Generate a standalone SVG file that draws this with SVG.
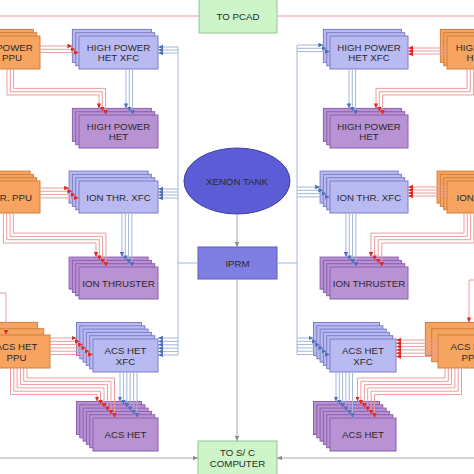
<svg xmlns="http://www.w3.org/2000/svg" width="474" height="474" viewBox="0 0 474 474">
<style>
.ppu{fill:#f6a460;stroke:#cf7f3f;stroke-width:1}
.xfc{fill:#babaf3;stroke:#7c7cc8;stroke-width:1}
.het{fill:#b992d4;stroke:#8b5fae;stroke-width:1}
.grn{fill:#cdf5c9;stroke:#93c293;stroke-width:1}
.tank{fill:#5c5cd6;stroke:#3e3e9c;stroke-width:1}
.iprm{fill:#7e7ee3;stroke:#5a5ab6;stroke-width:1}
text{font-family:"Liberation Sans",Arial,sans-serif;font-size:9.7px;fill:#2a2a2a;text-anchor:middle}
.r{fill:none;stroke:#ec9c9c;stroke-width:1;marker-end:url(#ar)}
.rn{fill:none;stroke:#ec9c9c;stroke-width:1}
.b{fill:none;stroke:#a3b6d8;stroke-width:1;marker-end:url(#ab)}
.bn{fill:none;stroke:#a3b6d8;stroke-width:1}
.g{fill:none;stroke:#a8a8a8;stroke-width:1;marker-end:url(#ag)}
</style>
<defs>
<marker id="ar" markerUnits="userSpaceOnUse" markerWidth="6" markerHeight="5" refX="5" refY="2.2" orient="auto"><path d="M0,0 L5,2.2 L0,4.4 z" fill="#e02828"/></marker>
<marker id="ab" markerUnits="userSpaceOnUse" markerWidth="6" markerHeight="5" refX="5" refY="2.2" orient="auto"><path d="M0,0 L5,2.2 L0,4.4 z" fill="#4d70b8"/></marker>
<marker id="ag" markerUnits="userSpaceOnUse" markerWidth="6" markerHeight="5" refX="5" refY="2.2" orient="auto"><path d="M0,0 L5,2.2 L0,4.4 z" fill="#8a8a8a"/></marker>
</defs>

<!-- Center nodes -->
<g id="to-pcad"><rect class="grn" x="199" y="-5" width="78" height="38"/><text x="238" y="19.5">TO PCAD</text></g>
<g id="xenon-tank"><ellipse class="tank" cx="237" cy="181" rx="53" ry="33"/><text x="237" y="184.5">XENON TANK</text></g>
<g id="iprm"><rect class="iprm" x="198" y="247" width="79" height="32"/><text x="237.5" y="266.5">IPRM</text></g>
<g id="to-sc-computer"><rect class="grn" x="198" y="441" width="79" height="40"/><text x="237.5" y="455.5">TO S/ C</text><text x="237.5" y="467">COMPUTER</text></g>

<!-- Left column -->
<g id="l-hp-ppu"><rect class="ppu" x="-45.6" y="29.4" width="79" height="33"/><rect class="ppu" x="-42.3" y="32.7" width="79" height="33"/><rect class="ppu" x="-39" y="36" width="79" height="33"/><text x="1" y="50.5">HIGH POWER</text><text x="1" y="61">HET PPU</text></g>
<g id="l-hp-xfc"><rect class="xfc" x="72.4" y="29.4" width="79" height="33"/><rect class="xfc" x="75.7" y="32.7" width="79" height="33"/><rect class="xfc" x="79" y="36" width="79" height="33"/><text x="118.5" y="50.5">HIGH POWER</text><text x="118.5" y="61">HET XFC</text></g>
<g id="l-hp-het"><rect class="het" x="72.4" y="108.4" width="79" height="33"/><rect class="het" x="75.7" y="111.7" width="79" height="33"/><rect class="het" x="79" y="115" width="79" height="33"/><text x="118.5" y="129.5">HIGH POWER</text><text x="118.5" y="140">HET</text></g>

<g id="l-ion-ppu"><rect class="ppu" x="-48.9" y="171.1" width="79" height="32"/><rect class="ppu" x="-45.6" y="174.4" width="79" height="32"/><rect class="ppu" x="-42.3" y="177.7" width="79" height="32"/><rect class="ppu" x="-39" y="181" width="79" height="32"/><text x="-0.5" y="200.5">ION THR. PPU</text></g>
<g id="l-ion-xfc"><rect class="xfc" x="69.1" y="171.1" width="79" height="32"/><rect class="xfc" x="72.4" y="174.4" width="79" height="32"/><rect class="xfc" x="75.7" y="177.7" width="79" height="32"/><rect class="xfc" x="79" y="181" width="79" height="32"/><text x="118.5" y="200.5">ION THR. XFC</text></g>
<g id="l-ion-thruster"><rect class="het" x="69.1" y="257.1" width="79" height="32"/><rect class="het" x="72.4" y="260.4" width="79" height="32"/><rect class="het" x="75.7" y="263.7" width="79" height="32"/><rect class="het" x="79" y="267" width="79" height="32"/><text x="118.5" y="286.5">ION THRUSTER</text></g>

<g id="l-acs-ppu"><rect class="ppu" x="-29.6" y="322.4" width="67" height="33"/><rect class="ppu" x="-23.3" y="328.7" width="67" height="33"/><rect class="ppu" x="-17" y="335" width="67" height="33"/><text x="16.5" y="349.5">ACS HET</text><text x="16.5" y="360.5">PPU</text></g>
<g id="l-acs-xfc"><rect class="xfc" x="76.5" y="322.5" width="65" height="33"/><rect class="xfc" x="79.8" y="325.8" width="65" height="33"/><rect class="xfc" x="83.1" y="329.1" width="65" height="33"/><rect class="xfc" x="86.4" y="332.4" width="65" height="33"/><rect class="xfc" x="89.7" y="335.7" width="65" height="33"/><rect class="xfc" x="93" y="339" width="65" height="33"/><text x="125.5" y="353.5">ACS HET</text><text x="125.5" y="364.5">XFC</text></g>
<g id="l-acs-het"><rect class="het" x="76.5" y="401.5" width="65" height="33"/><rect class="het" x="79.8" y="404.8" width="65" height="33"/><rect class="het" x="83.1" y="408.1" width="65" height="33"/><rect class="het" x="86.4" y="411.4" width="65" height="33"/><rect class="het" x="89.7" y="414.7" width="65" height="33"/><rect class="het" x="93" y="418" width="65" height="33"/><text x="125.5" y="437.5">ACS HET</text></g>

<!-- Right column -->
<g id="r-hp-ppu"><rect class="ppu" x="440.4" y="29.4" width="79" height="33"/><rect class="ppu" x="443.7" y="32.7" width="79" height="33"/><rect class="ppu" x="447" y="36" width="79" height="33"/><text x="487.5" y="50.5">HIGH POWER</text><text x="487.5" y="61">HET PPU</text></g>
<g id="r-hp-xfc"><rect class="xfc" x="323.4" y="29.4" width="78" height="33"/><rect class="xfc" x="326.7" y="32.7" width="78" height="33"/><rect class="xfc" x="330" y="36" width="78" height="33"/><text x="369" y="50.5">HIGH POWER</text><text x="369" y="61">HET XFC</text></g>
<g id="r-hp-het"><rect class="het" x="323.4" y="108.4" width="78" height="33"/><rect class="het" x="326.7" y="111.7" width="78" height="33"/><rect class="het" x="330" y="115" width="78" height="33"/><text x="369" y="129.5">HIGH POWER</text><text x="369" y="140">HET</text></g>

<g id="r-ion-ppu"><rect class="ppu" x="437.1" y="171.1" width="79" height="32"/><rect class="ppu" x="440.4" y="174.4" width="79" height="32"/><rect class="ppu" x="443.7" y="177.7" width="79" height="32"/><rect class="ppu" x="447" y="181" width="79" height="32"/><text x="489" y="200.5">ION THR. PPU</text></g>
<g id="r-ion-xfc"><rect class="xfc" x="320.1" y="171.1" width="78" height="32"/><rect class="xfc" x="323.4" y="174.4" width="78" height="32"/><rect class="xfc" x="326.7" y="177.7" width="78" height="32"/><rect class="xfc" x="330" y="181" width="78" height="32"/><text x="369" y="200.5">ION THR. XFC</text></g>
<g id="r-ion-thruster"><rect class="het" x="320.1" y="257.1" width="78" height="32"/><rect class="het" x="323.4" y="260.4" width="78" height="32"/><rect class="het" x="326.7" y="263.7" width="78" height="32"/><rect class="het" x="330" y="267" width="78" height="32"/><text x="369" y="286.5">ION THRUSTER</text></g>

<g id="r-acs-ppu"><rect class="ppu" x="425.4" y="322.4" width="67" height="33"/><rect class="ppu" x="431.7" y="328.7" width="67" height="33"/><rect class="ppu" x="438" y="335" width="67" height="33"/><text x="471.5" y="349.5">ACS HET</text><text x="471.5" y="360.5">PPU</text></g>
<g id="r-acs-xfc"><rect class="xfc" x="313.5" y="322.5" width="66" height="33"/><rect class="xfc" x="316.8" y="325.8" width="66" height="33"/><rect class="xfc" x="320.1" y="329.1" width="66" height="33"/><rect class="xfc" x="323.4" y="332.4" width="66" height="33"/><rect class="xfc" x="326.7" y="335.7" width="66" height="33"/><rect class="xfc" x="330" y="339" width="66" height="33"/><text x="363" y="353.5">ACS HET</text><text x="363" y="364.5">XFC</text></g>
<g id="r-acs-het"><rect class="het" x="313.5" y="401.5" width="66" height="33"/><rect class="het" x="316.8" y="404.8" width="66" height="33"/><rect class="het" x="320.1" y="408.1" width="66" height="33"/><rect class="het" x="323.4" y="411.4" width="66" height="33"/><rect class="het" x="326.7" y="414.7" width="66" height="33"/><rect class="het" x="330" y="418" width="66" height="33"/><text x="363" y="437.5">ACS HET</text></g>

<g id="connectors">
<!-- top / bottom / center -->
<path class="rn" d="M0,16 H199 M277,16 H474"/>
<path class="g" d="M237,214 V247"/>
<path class="g" d="M237,279 V441"/>
<path class="g" d="M0,458 H198"/>
<path class="g" d="M474,458 H277"/>
<path class="r" d="M0,293 H6 V335"/>
<path class="r" d="M474,280 H469 V322.4"/>
<!-- buses -->
<path class="bn" d="M178,47 V355 M178,263 H198"/>
<path class="bn" d="M297,45 V354.5 M277,263 H297"/>

<!-- left HP -->
<path class="r" d="M40,46 H72.4"/><path class="r" d="M40,49.3 H75.7"/><path class="r" d="M40,52.6 H79"/>
<path class="r" d="M7,69 V95 H99 V108.4"/><path class="r" d="M10.3,69 V91.7 H102.3 V111.7"/><path class="r" d="M13.6,69 V88.4 H105.6 V115"/>
<path class="b" d="M126,69 V108.4"/><path class="b" d="M129.3,69 V111.7"/><path class="b" d="M132.6,69 V115"/>
<path class="b" d="M178,47 H158"/><path class="b" d="M178,50 H158"/><path class="b" d="M178,53 H158"/>

<!-- left ION -->
<path class="r" d="M40,188 H69.1"/><path class="r" d="M40,191.3 H72.4"/><path class="r" d="M40,194.6 H75.7"/><path class="r" d="M40,197.9 H79"/>
<path class="r" d="M3.4,213 V243 H96 V257.1"/><path class="r" d="M6.7,213 V239.7 H99.3 V260.4"/><path class="r" d="M10,213 V236.4 H102.6 V263.7"/><path class="r" d="M13.3,213 V233.1 H105.9 V267"/>
<path class="b" d="M122,213 V257.1"/><path class="b" d="M125.3,213 V260.4"/><path class="b" d="M128.6,213 V263.7"/><path class="b" d="M131.9,213 V267"/>
<path class="b" d="M178,189 H158"/><path class="b" d="M178,192 H158"/><path class="b" d="M178,195 H158"/><path class="b" d="M178,198 H158"/>

<!-- left ACS -->
<path class="r" d="M50,338 H76.5"/><path class="r" d="M50,341.3 H79.8"/><path class="r" d="M50,344.6 H83.1"/><path class="r" d="M50,347.9 H86.4"/><path class="r" d="M50,351.2 H89.7"/><path class="r" d="M50,354.5 H93"/>
<path class="r" d="M10.5,368 V394.5 H97 V401.5"/><path class="r" d="M13.8,368 V391.2 H100.5 V404.8"/><path class="r" d="M17.1,368 V387.9 H104 V408.1"/><path class="r" d="M20.4,368 V384.6 H107.5 V411.4"/><path class="r" d="M23.7,368 V381.3 H111 V414.7"/><path class="r" d="M27,368 V378 H114.5 V418"/>
<path class="b" d="M120,372 V401.5"/><path class="b" d="M123.4,372 V404.8"/><path class="b" d="M126.8,372 V408.1"/><path class="b" d="M130.2,372 V411.4"/><path class="b" d="M133.6,372 V414.7"/><path class="b" d="M137,372 V418"/>
<path class="b" d="M178,338 H158"/><path class="b" d="M178,341.4 H158"/><path class="b" d="M178,344.8 H158"/><path class="b" d="M178,348.2 H158"/><path class="b" d="M178,351.6 H158"/><path class="b" d="M178,355 H158"/>

<!-- right HP -->
<path class="b" d="M297,45 H323.4"/><path class="b" d="M297,48.3 H326.7"/><path class="b" d="M297,51.6 H330"/>
<path class="r" d="M447,48 H408"/><path class="r" d="M447,51 H408"/><path class="r" d="M447,54 H408"/>
<path class="r" d="M467,69 V88.4 H376 V108.4"/><path class="r" d="M470.3,69 V91.7 H379.3 V111.7"/><path class="r" d="M473.6,69 V95 H382.6 V115"/>
<path class="b" d="M349,69 V108.4"/><path class="b" d="M352.3,69 V111.7"/><path class="b" d="M355.6,69 V115"/>

<!-- right ION -->
<path class="b" d="M297,187 H320.1"/><path class="b" d="M297,190.3 H323.4"/><path class="b" d="M297,193.6 H326.7"/><path class="b" d="M297,196.9 H330"/>
<path class="r" d="M447,187 H408"/><path class="r" d="M447,190 H408"/><path class="r" d="M447,193 H408"/><path class="r" d="M447,196 H408"/>
<path class="r" d="M464,213 V233.1 H371 V257.1"/><path class="r" d="M467.3,213 V236.4 H374.6 V260.4"/><path class="r" d="M470.6,213 V239.7 H378.2 V263.7"/><path class="r" d="M473.9,213 V243 H381.8 V267"/>
<path class="b" d="M346,213 V257.1"/><path class="b" d="M349.3,213 V260.4"/><path class="b" d="M352.6,213 V263.7"/><path class="b" d="M355.9,213 V267"/>

<!-- right ACS -->
<path class="b" d="M297,338 H313.5"/><path class="b" d="M297,341.3 H316.8"/><path class="b" d="M297,344.6 H320.1"/><path class="b" d="M297,347.9 H323.4"/><path class="b" d="M297,351.2 H326.7"/><path class="b" d="M297,354.5 H330"/>
<path class="r" d="M438,340 H396"/><path class="r" d="M438,343.3 H396"/><path class="r" d="M438,346.6 H396"/><path class="r" d="M438,349.9 H396"/><path class="r" d="M438,353.2 H396"/><path class="r" d="M438,356.5 H396"/>
<path class="r" d="M445,368 V378 H357.5 V401.5"/><path class="r" d="M448.3,368 V381.3 H360.9 V404.8"/><path class="r" d="M451.6,368 V384.6 H364.3 V408.1"/><path class="r" d="M454.9,368 V387.9 H367.7 V411.4"/><path class="r" d="M458.2,368 V391.2 H371.1 V414.7"/><path class="r" d="M461.5,368 V394.5 H374.5 V418"/>
<path class="b" d="M336,372 V401.5"/><path class="b" d="M339.3,372 V404.8"/><path class="b" d="M342.6,372 V408.1"/><path class="b" d="M345.9,372 V411.4"/><path class="b" d="M349.2,372 V414.7"/><path class="b" d="M352.5,372 V418"/>
</g>
</svg>
